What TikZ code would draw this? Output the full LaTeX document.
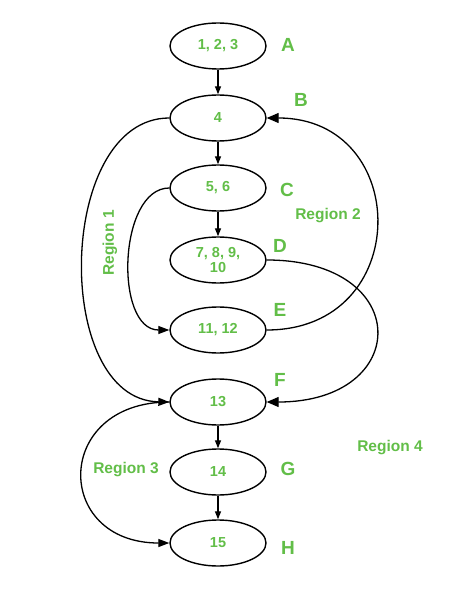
\documentclass[tikz,border=0pt]{standalone}
\usepackage{fontspec}
\setmainfont{Liberation Sans}
\usetikzlibrary{shapes.geometric,arrows.meta}
\definecolor{gfg}{RGB}{98,190,72}
\tikzset{
  blk/.style={ellipse,draw=black,line width=1.4pt,minimum width=96pt,minimum height=46pt,inner sep=0pt,
    font=\bfseries\fontsize{14.5}{15}\selectfont,text=gfg,align=center},
  lett/.style={font=\bfseries\fontsize{19}{20}\selectfont,text=gfg},
  reg/.style={font=\bfseries\fontsize{15.5}{16}\selectfont,text=gfg},
  edge/.style={line width=1.3pt,-{Triangle[length=8pt,width=6pt]}},
  bigedge/.style={line width=1.3pt,-{Triangle[length=12pt,width=10pt]}},
  medge/.style={line width=1.3pt,-{Triangle[length=11pt,width=8pt]}},
}
\begin{document}
\begin{tikzpicture}[x=1pt,y=-1pt]
\useasboundingbox[fill=white] (0,0) rectangle (474,601);
\node[blk] (A) at (218,46) {1, 2, 3};
\node[blk] (B) at (218,118) {4};
\node[blk] (C) at (218,188) {5, 6};
\node[blk] (D) at (218,260) {7, 8, 9,\\10};
\node[blk] (E) at (218,330) {11, 12};
\node[blk] (F) at (218,402) {13};
\node[blk] (G) at (218,472) {14};
\node[blk] (H) at (218,543) {15};
\node[lett] (lA) at (288,45) {A};
\node[lett] (lB) at (301,100) {B};
\node[lett] (lC) at (287,190) {C};
\node[lett] (lD) at (280,246) {D};
\node[lett] (lE) at (280,310) {E};
\node[lett] (lF) at (280,380) {F};
\node[lett] (lG) at (288,469) {G};
\node[lett] (lH) at (288,548) {H};
\node[reg,rotate=90] (r1) at (110,243) {Region 1};
\node[reg] (r2) at (328,216) {Region 2};
\node[reg] (r3) at (126,470) {Region 3};
\node[reg] (r4) at (390,448) {Region 4};
\draw[edge] (A) -- (B);
\draw[edge] (B) -- (C);
\draw[edge] (C) -- (D);
\draw[edge] (F) -- (G);
\draw[edge] (G) -- (H);
\draw[medge] (B.west) .. controls (56,118) and (52,400) .. (F.west);
\draw[medge] (C.west) .. controls (118,188) and (114,330) .. (E.west);
\draw[bigedge] (E.east) .. controls (414,330) and (412,118) .. (B.east);
\draw[bigedge] (D.east) .. controls (414,260) and (412,402) .. (F.east);
\draw[medge] (F.west) .. controls (53,402) and (53,543) .. (H.west);
\end{tikzpicture}
\end{document}
